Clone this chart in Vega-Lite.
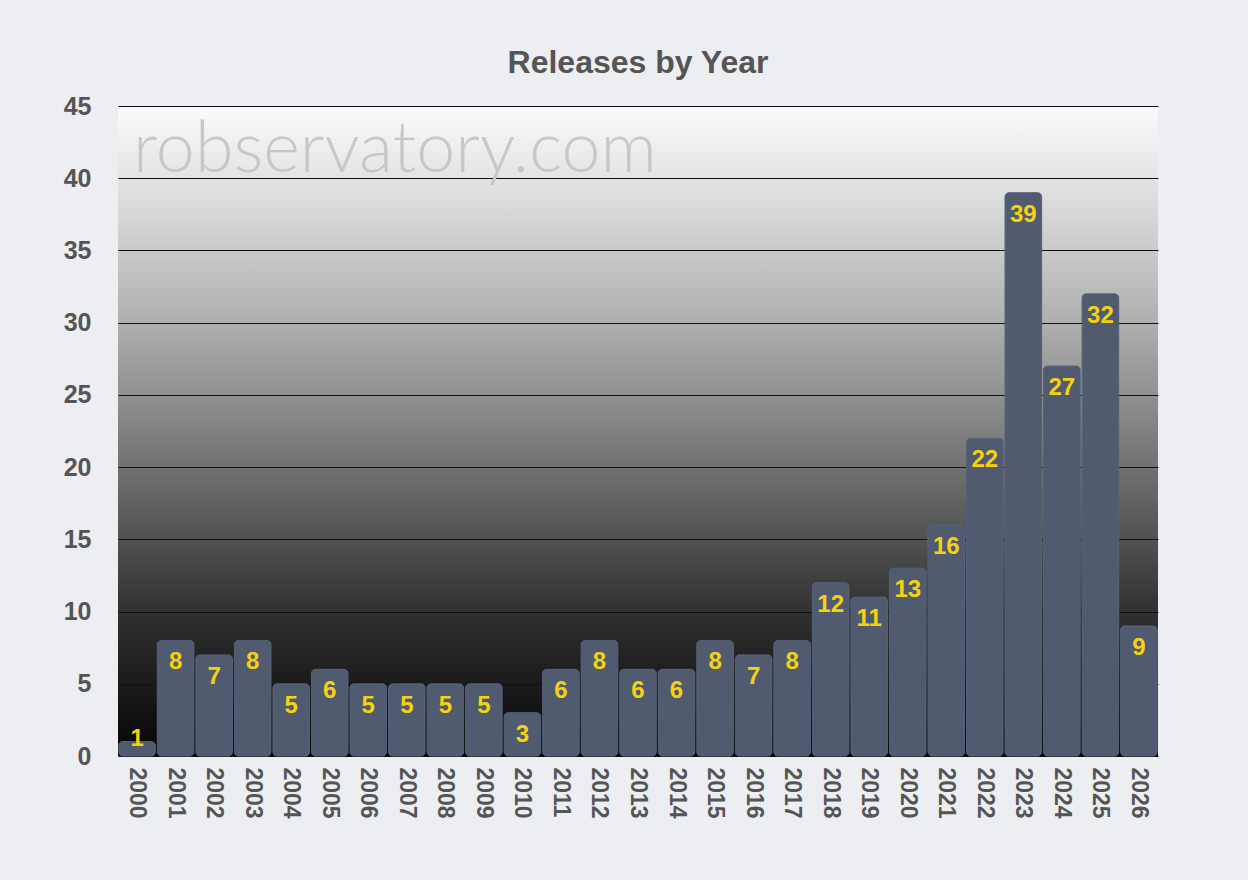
{
  "$schema": "https://vega.github.io/schema/vega-lite/v6.json",
  "width": 1040,
  "height": 650,
  "autosize": "none",
  "padding": {"left": 118, "top": 106, "right": 90, "bottom": 124},
  "background": "#eceef1",
  "config": {
    "font": "Liberation Sans",
    "view": {
      "stroke": null,
      "fill": {"gradient": "linear", "x1": 0, "y1": 0, "x2": 0, "y2": 1,
        "stops": [
          {"offset": 0, "color": "#fbfbfb"},
          {"offset": 0.11, "color": "#e4e4e4"},
          {"offset": 0.33, "color": "#b0b0b0"},
          {"offset": 0.56, "color": "#707070"},
          {"offset": 0.78, "color": "#303030"},
          {"offset": 1, "color": "#050505"}
        ]}
    }
  },
  "title": {
    "text": "Releases by Year",
    "fontSize": 32,
    "fontWeight": "bold",
    "color": "#555555",
    "anchor": "middle",
    "baseline": "alphabetic",
    "offset": -11
  },
  "data": {
    "values": [
      {"year": "2000", "count": 1},
      {"year": "2001", "count": 8},
      {"year": "2002", "count": 7},
      {"year": "2003", "count": 8},
      {"year": "2004", "count": 5},
      {"year": "2005", "count": 6},
      {"year": "2006", "count": 5},
      {"year": "2007", "count": 5},
      {"year": "2008", "count": 5},
      {"year": "2009", "count": 5},
      {"year": "2010", "count": 3},
      {"year": "2011", "count": 6},
      {"year": "2012", "count": 8},
      {"year": "2013", "count": 6},
      {"year": "2014", "count": 6},
      {"year": "2015", "count": 8},
      {"year": "2016", "count": 7},
      {"year": "2017", "count": 8},
      {"year": "2018", "count": 12},
      {"year": "2019", "count": 11},
      {"year": "2020", "count": 13},
      {"year": "2021", "count": 16},
      {"year": "2022", "count": 22},
      {"year": "2023", "count": 39},
      {"year": "2024", "count": 27},
      {"year": "2025", "count": 32},
      {"year": "2026", "count": 9}
    ]
  },
  "encoding": {
    "x": {
      "field": "year", "type": "ordinal",
      "scale": {"paddingInner": 0.05, "paddingOuter": 0.02},
      "axis": {
        "title": null, "labelAngle": 90, "labelFontSize": 23, "labelFontWeight": "bold",
        "labelColor": "#555555", "ticks": false, "domain": false, "labelPadding": 11
      }
    },
    "y": {
      "field": "count", "type": "quantitative",
      "scale": {"domain": [0, 45]},
      "axis": {
        "title": null, "values": [0, 5, 10, 15, 20, 25, 30, 35, 40, 45],
        "labelFontSize": 25, "labelFontWeight": "bold", "labelColor": "#555555",
        "ticks": false, "domain": false, "labelPadding": 27,
        "gridColor": "#111111", "gridOpacity": 1, "gridWidth": 1
      }
    }
  },
  "layer": [
    {
      "transform": [{"filter": "datum.year == '2000'"}],
      "mark": {"type": "text", "font": "Lato", "fontWeight": 300, "fontSize": 70, "color": "#c8c8c8", "align": "left", "baseline": "alphabetic", "dx": -4},
      "encoding": {
        "y": {"datum": 40.4, "type": "quantitative"},
        "text": {"value": "robservatory.com"}
      }
    },
    {
      "mark": {"type": "bar", "color": "#505b70", "cornerRadius": 4, "stroke": "#56617a", "strokeWidth": 1}
    },
    {
      "transform": [{"filter": "datum.count >= 2"}],
      "mark": {"type": "text", "color": "#f5d20f", "fontSize": 24, "fontWeight": "bold", "baseline": "middle", "dy": 22},
      "encoding": {"text": {"field": "count", "type": "quantitative"}}
    },
    {
      "transform": [{"filter": "datum.count < 2"}],
      "mark": {"type": "text", "color": "#f5d20f", "fontSize": 24, "fontWeight": "bold", "baseline": "middle", "dy": -3},
      "encoding": {"text": {"field": "count", "type": "quantitative"}}
    }
  ]
}
